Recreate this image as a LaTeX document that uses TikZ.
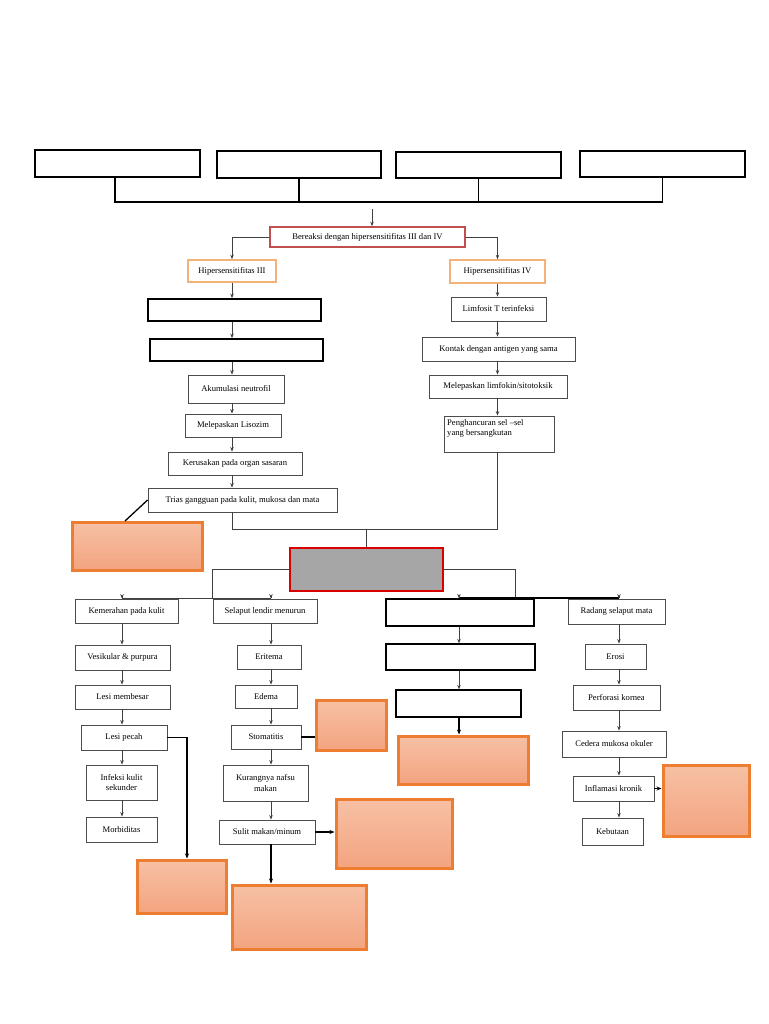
\documentclass[tikz,border=0pt]{standalone}
\usepackage{fontspec}
\setmainfont{Liberation Serif}
\usetikzlibrary{arrows.meta}
\definecolor{obord}{HTML}{ED7D31}
\definecolor{otop}{HTML}{F7C0A5}
\definecolor{obot}{HTML}{F3A47F}
\definecolor{hbord}{HTML}{F2B27A}
\definecolor{rbord}{HTML}{C0504D}
\newcommand\bx[7]{\node[#1] (#2) at ({(#3+#4)/2},{(#5+#6)/2}) [minimum width={#4-#3}, minimum height={#6-#5}] {#7};}
\tikzset{
  every node/.style={font=\fontsize{8.6}{10.5}\selectfont, inner sep=1pt},
  bbox/.style={draw=black!70, line width=0.8pt},
  ebox/.style={draw=black, line width=1.8pt},
  cbox/.style={draw=black, line width=1.3pt},
  hbox/.style={draw=hbord, line width=1.6pt},
  rbox/.style={draw=rbord, line width=1.6pt},
  gbox/.style={draw=red!85!black, line width=1.8pt, fill=black!35},
  obox/.style={draw=obord, line width=3pt, top color=otop, bottom color=obot},
  ln/.style={draw=black!75, line width=0.8pt},
  tk/.style={draw=black, line width=1.8pt},
  arr/.style={ln, -{Stealth[length=4.5pt,width=3.5pt]}},
  tarr/.style={tk, -{Stealth[length=5pt,width=4pt]}},
}
\begin{document}
\begin{tikzpicture}[x=1pt,y=-1pt]
\useasboundingbox (0,0) rectangle (768,1024);
% top
\bx{ebox}{a1}{35}{200}{150}{177}{}
\bx{ebox}{a2}{217}{381}{151}{178}{}
\bx{ebox}{a3}{396}{561}{152}{178}{}
\bx{ebox}{a4}{580}{745}{151}{177}{}
\coordinate (busy) at (0,202);
\coordinate (t1) at (115,0);
\draw[tk, line width=1.5pt] (t1 |- a1.south) |- (a4.south |- busy) -- (a4.south);
\draw[tk, line width=1.2pt] (a2.south) -- (a2.south |- busy);
\draw[tk, line width=1.2pt] (a3.south) -- (a3.south |- busy);
\bx{rbox}{ber}{270}{465}{227}{247}{Bereaksi dengan hipersensitifitas III dan IV}
\coordinate (ar0) at (372,209);
\draw[arr] (ar0) -- (ar0 |- ber.north);
% left branch
\bx{hbox}{h3}{188}{276}{260}{282}{Hipersensitifitas III}
\bx{hbox}{h4}{450}{545}{260}{283}{Hipersensitifitas IV}
\draw[arr] (ber.west) -| (h3.north);
\draw[arr] (ber.east) -| (h4.north);
\bx{ebox}{b1}{148}{321}{299}{321}{}
\bx{ebox}{b2}{150}{323}{339}{361}{}
\bx{bbox}{l1}{188}{284}{375}{403}{Akumulasi neutrofil}
\bx{bbox}{l2}{185}{281}{414}{437}{Melepaskan Lisozim}
\bx{bbox}{l3}{168}{302}{452}{475}{Kerusakan pada organ sasaran}
\bx{bbox}{l4}{148}{337}{488}{512}{Trias gangguan pada kulit, mukosa dan mata}
\draw[arr] (h3.south) -- (h3.south |- b1.north);
\draw[arr] (b1.south -| h3.south) -- (h3.south |- b2.north);
\draw[arr] (b2.south -| h3.south) -- (h3.south |- l1.north);
\draw[arr] (l1.south -| h3.south) -- (h3.south |- l2.north);
\draw[arr] (l2.south -| h3.south) -- (h3.south |- l3.north);
\draw[arr] (l3.south -| h3.south) -- (h3.south |- l4.north);
\bx{obox}{o1}{72}{202}{522}{570}{}
\coordinate (o1t) at (125,521);
\draw[tk, line width=1.3pt] (l4.west) -- (o1t);
% right branch
\bx{bbox}{r1}{451}{546}{297}{321}{Limfosit T terinfeksi}
\bx{bbox}{r2}{422}{575}{337}{361}{Kontak dengan antigen yang sama}
\bx{bbox}{r3}{429}{567}{375}{398}{Melepaskan limfokin/sitotoksik}
\bx{bbox}{r4}{444}{554}{416}{452}{}
\node[anchor=north west, align=left] at (446,418) {Penghancuran sel --sel\\yang bersangkutan};
\draw[arr] (h4.south) -- (h4.south |- r1.north);
\draw[arr] (r1.south -| h4.south) -- (h4.south |- r2.north);
\draw[arr] (r2.south -| h4.south) -- (h4.south |- r3.north);
\draw[arr] (r3.south -| h4.south) -- (h4.south |- r4.north);
% merge
\bx{gbox}{gr}{290}{443}{548}{591}{}
\coordinate (my) at (0,529);
\draw[ln] (h3.south |- l4.south) |- (h4.south |- my) -- (h4.south |- r4.south);
\draw[ln] (gr.north) -- (gr.north |- my);
% bottom buses
\coordinate (k1) at (212,598);
\coordinate (k2) at (515,598);
\bx{bbox}{c1a}{75}{178}{599}{623}{Kemerahan pada kulit}
\bx{bbox}{c2a}{213}{317}{599}{623}{Selaput lendir menurun}
\bx{cbox}{c3a}{386}{534}{599}{626}{}
\bx{bbox}{c4a}{568}{665}{599}{624}{Radang selaput mata}
\coordinate (x1) at (122,0);
\coordinate (x2) at (271,0);
\coordinate (x3) at (459,0);
\coordinate (x4) at (619,0);
\draw[ln] (gr.west) -| (k1);
\draw[ln] (x1 |- k1) -- (x2 |- k1);
\draw[arr] (x1 |- k1) -- (x1 |- c1a.north);
\draw[arr] (x2 |- k1) -- (x2 |- c2a.north);
\draw[ln] (gr.east) -| (k2);
\draw[tk, line width=1.4pt] (x3 |- k1) -- (x4 |- k1);
\draw[arr] (x3 |- k1) -- (x3 |- c3a.north);
\draw[arr] (x4 |- k1) -- (x4 |- c4a.north);
% column 1
\bx{bbox}{c1b}{75}{170}{645}{670}{Vesikular \& purpura}
\bx{bbox}{c1c}{75}{170}{685}{709}{Lesi membesar}
\bx{bbox}{c1d}{81}{167}{725}{750}{Lesi pecah}
\bx{bbox}{c1e}{86}{157}{765}{800}{}
\node[align=center] at (c1e) {Infeksi kulit\\sekunder};
\bx{bbox}{c1f}{86}{157}{817}{842}{Morbiditas}
\draw[arr] (c1a.south -| x1) -- (x1 |- c1b.north);
\draw[arr] (c1b.south -| x1) -- (x1 |- c1c.north);
\draw[arr] (c1c.south -| x1) -- (x1 |- c1d.north);
\draw[arr] (c1d.south -| x1) -- (x1 |- c1e.north);
\draw[arr] (c1e.south -| x1) -- (x1 |- c1f.north);
\bx{obox}{o2}{137}{226}{860}{913}{}
\coordinate (q1) at (187,0);
\draw[tarr] (c1d.east) -| (q1 |- o2.north);
% column 2
\bx{bbox}{c2b}{237}{301}{645}{669}{Eritema}
\bx{bbox}{c2c}{235}{297}{685}{708}{Edema}
\bx{bbox}{c2d}{231}{301}{725}{749}{Stomatitis}
\bx{bbox}{c2e}{223}{308}{765}{801}{}
\node[align=center] at (c2e) {Kurangnya nafsu\\makan};
\bx{bbox}{c2f}{219}{315}{820}{844}{Sulit makan/minum}
\draw[arr] (c2a.south -| x2) -- (x2 |- c2b.north);
\draw[arr] (c2b.south -| x2) -- (x2 |- c2c.north);
\draw[arr] (c2c.south -| x2) -- (x2 |- c2d.north);
\draw[arr] (c2d.south -| x2) -- (x2 |- c2e.north);
\draw[arr] (c2e.south -| x2) -- (x2 |- c2f.north);
\bx{obox}{o3}{316}{386}{700}{750}{}
\bx{obox}{o4}{336}{452}{799}{868}{}
\bx{obox}{o5}{232}{366}{885}{949}{}
\draw[tk] (c2d.east) -- (o3.west |- c2d.east);
\draw[tarr] (c2f.east) -- (o4.west |- c2f.east);
\draw[tarr] (c2f.south -| x2) -- (x2 |- o5.north);
% column 3
\bx{cbox}{c3b}{386}{535}{644}{670}{}
\bx{cbox}{c3c}{396}{521}{690}{717}{}
\bx{obox}{o6}{398}{528}{736}{784}{}
\draw[arr] (c3a.south -| x3) -- (x3 |- c3b.north);
\draw[arr] (c3b.south -| x3) -- (x3 |- c3c.north);
\draw[tarr] (c3c.south -| x3) -- (x3 |- o6.north);
% column 4
\bx{bbox}{c4b}{585}{646}{644}{669}{Erosi}
\bx{bbox}{c4c}{573}{660}{685}{710}{Perforasi kornea}
\bx{bbox}{c4d}{562}{666}{731}{757}{Cedera mukosa okuler}
\bx{bbox}{c4e}{573}{654}{776}{801}{Inflamasi kronik}
\bx{bbox}{c4f}{582}{643}{818}{845}{Kebutaan}
\draw[arr] (c4a.south -| x4) -- (x4 |- c4b.north);
\draw[arr] (c4b.south -| x4) -- (x4 |- c4c.north);
\draw[arr] (c4c.south -| x4) -- (x4 |- c4d.north);
\draw[arr] (c4d.south -| x4) -- (x4 |- c4e.north);
\draw[arr] (c4e.south -| x4) -- (x4 |- c4f.north);
\bx{obox}{o7}{663}{749}{765}{836}{}
\draw[tarr] (c4e.east) -- (o7.west |- c4e.east);
\end{tikzpicture}
\end{document}
